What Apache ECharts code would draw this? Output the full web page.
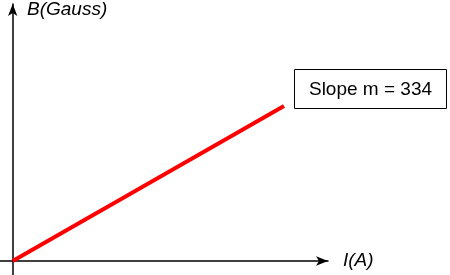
<!DOCTYPE html>
<html>
<head>
<meta charset="utf-8">
<script src="https://cdn.jsdelivr.net/npm/echarts@6/dist/echarts.min.js"></script>
<style>html,body{margin:0;padding:0;background:#fff}#c{width:450px;height:275px}</style>
</head>
<body>
<div id="c"></div>
<script>
// Data
var currentA = [0, 1];          // I (A)
var fieldGauss = [0, 334];      // B (Gauss)
var xAxisLabel = 'I(A)';
var yAxisLabel = 'B(Gauss)';
var slopeLabel = 'Slope m = 334';

var chart = echarts.init(document.getElementById('c'), null, {renderer: 'canvas'});
var pts = currentA.map(function (v, i) { return [v, fieldGauss[i]]; });
var font = "'Liberation Sans', Arial, Helvetica, sans-serif";

chart.setOption({
  animation: false,
  backgroundColor: '#ffffff',
  grid: {left: 0, right: 122, top: 4, bottom: 0, containLabel: false},
  xAxis: {
    type: 'value', min: -0.0468, max: 1.1622,
    axisLine: {onZero: true, lineStyle: {color: '#000', width: 1.5}, symbol: ['none', 'arrow'], symbolSize: [7, 12]},
    axisTick: {show: false}, axisLabel: {show: false}, splitLine: {show: false}
  },
  yAxis: {
    type: 'value', min: -30.2, max: 553.8,
    axisLine: {show: true, onZero: true, lineStyle: {color: '#000', width: 1.5}, symbol: ['none', 'arrow'], symbolSize: [7, 12]},
    axisTick: {show: false}, axisLabel: {show: false}, splitLine: {show: false}
  },
  series: [{
    type: 'line', data: pts, symbol: 'none',
    lineStyle: {color: '#ff0000', width: 4}
  }],
  graphic: [
    {type: 'text', left: 27, top: 0, style: {text: yAxisLabel, font: 'italic 19px ' + font, fill: '#000'}},
    {type: 'text', left: 343, top: 251, style: {text: xAxisLabel, font: 'italic 19px ' + font, fill: '#000'}},
    {type: 'rect', shape: {x: 294.5, y: 69.5, width: 152, height: 39}, style: {fill: '#fff', stroke: '#000', lineWidth: 1}},
    {type: 'text', x: 370.5, y: 89.5, style: {text: slopeLabel, font: '19px ' + font, fill: '#000', align: 'center', verticalAlign: 'middle'}}
  ]
});
</script>
</body>
</html>
